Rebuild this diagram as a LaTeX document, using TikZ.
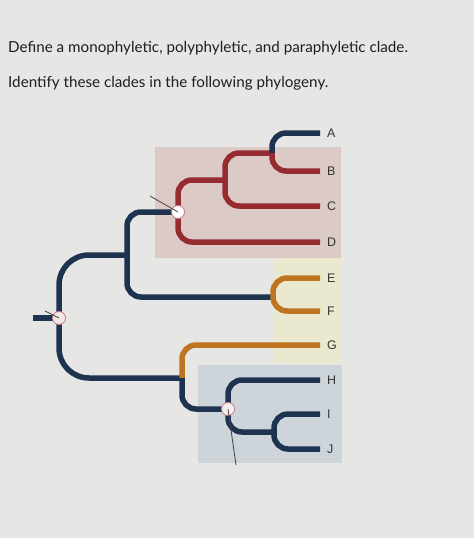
\documentclass[tikz,border=0pt]{standalone}
\usepackage{fontspec}
\setmainfont{Lato}
\newfontfamily\tipfont{Liberation Sans}

\definecolor{paper}{HTML}{E6E6E4}
\definecolor{ink}{HTML}{1E1E1E}
\definecolor{navy}{HTML}{1E3350}
\definecolor{wine}{HTML}{962C30}
\definecolor{amber}{HTML}{BE7420}
\definecolor{pinkbox}{HTML}{DBCAC5}
\definecolor{yellowbox}{HTML}{EAE9CF}
\definecolor{bluebox}{HTML}{CDD5DA}

\tikzset{
  branch/.style={line width=5.5pt, rounded corners=14pt},
  rootbranch/.style={line width=5.5pt, rounded corners=30pt},
  tip/.style={anchor=west, inner xsep=7pt, inner ysep=0pt, text=ink!90,
    font=\tipfont\fontsize{12.5}{12.5}\selectfont},
  knot/.style={circle, minimum size=13pt, inner sep=0pt, fill=white,
    draw=wine!60, line width=0.8pt},
  pointer/.style={line width=0.8pt, black!75},
  question/.style={anchor=west, inner sep=0pt, text=ink,
    font=\fontsize{15.2}{15.2}\selectfont}
}

\begin{document}
\begin{tikzpicture}[x=1pt, y=-1pt]
  \fill[paper] (0,0) rectangle (474,538);
  \useasboundingbox (0,0) rectangle (474,538);

  \node[question] (q1) at (8,48) {Define a monophyletic, polyphyletic, and paraphyletic clade.};
  \node[question] (q2) at (8,83) {Identify these clades in the following phylogeny.};

  % shaded clades
  \fill[pinkbox] (155,147) rectangle (341,258);
  \fill[yellowbox] (274,258) rectangle (342,363);
  \fill[bluebox] (198,365) rectangle (342,463);

  \node[tip] (A) at (320,133) {A};
  \node[tip] (B) at (320,171) {B};
  \node[tip] (C) at (320,206) {C};
  \node[tip] (D) at (320,242) {D};
  \node[tip] (E) at (320,278) {E};
  \node[tip] (F) at (320,311) {F};
  \node[tip] (G) at (320,345) {G};
  \node[tip] (H) at (320,380) {H};
  \node[tip] (I) at (320,414) {I};
  \node[tip] (J) at (320,449) {J};

  \coordinate (stem) at (33,318);
  \coordinate (root) at (59,318);
  \coordinate (n1) at (127,255);
  \coordinate (top) at (178,212);
  \coordinate (n3) at (225,180);
  \coordinate (n4) at (272,153);
  \coordinate (n5) at (273,297);
  \coordinate (n2) at (182,378);
  \coordinate (bot) at (228,409);
  \coordinate (n6) at (274,432);

  \draw[navy, line width=5.5pt] (stem) -- (root);
  \draw[rootbranch, navy] (root) |- (n1);
  \draw[rootbranch, navy] (root) |- (n2);

  \draw[branch, navy] (n1) |- (top);
  \draw[branch, navy] (n1) |- (n5);

  \draw[branch, wine] (top) |- (n3);
  \draw[branch, wine] (top) |- (D.west);
  \draw[branch, wine] (n3) |- (n4);
  \draw[branch, wine] (n3) |- (C.west);
  \draw[branch, navy] (n4) |- (A.west);
  \draw[branch, wine] (n4) |- (B.west);

  \draw[branch, amber] (n5) |- (E.west);
  \draw[branch, amber] (n5) |- (F.west);

  \draw[branch, amber] (n2) |- (G.west);
  \draw[branch, navy] (n2) |- (bot);
  \draw[branch, navy] (bot) |- (H.west);
  \draw[branch, navy] (bot) |- (n6);
  \draw[branch, navy] (n6) |- (I.west);
  \draw[branch, navy] (n6) |- (J.west);

  \node[knot, fill=wine!12] (kRoot) at (root) {};
  \node[knot] (kTop) at (top) {};
  \node[knot, fill=wine!8] (kBot) at (bot) {};

  \coordinate (p1) at (150,196);
  \coordinate (p2) at (45,311);
  \coordinate (p3) at (236,465);
  \draw[pointer] (p1) -- (kTop.center);
  \draw[pointer] (p2) -- (kRoot.center);
  \draw[pointer] (kBot.center) -- (p3);
  %\draw[pointer] (kBot) -- (H);
\end{tikzpicture}
\end{document}
